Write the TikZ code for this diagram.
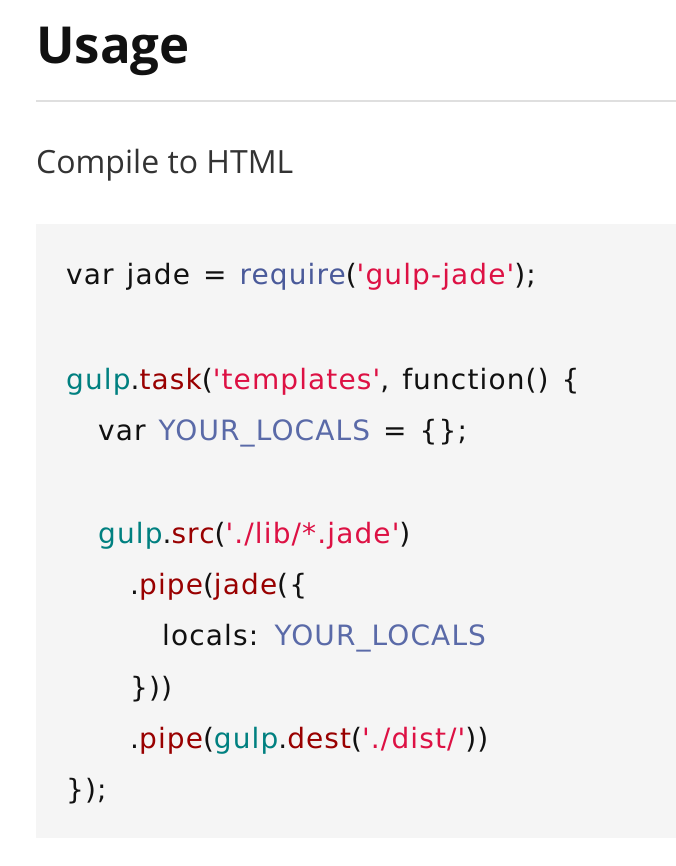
\documentclass[tikz,border=0pt]{standalone}
\usepackage{fontspec}
\setmainfont{Open Sans}
\newfontfamily\codef[LetterSpace=4,WordSpace=1.3]{DejaVu Sans}
\definecolor{kw}{HTML}{4A5A9A}
\definecolor{str}{HTML}{DD1144}
\definecolor{tl}{HTML}{008080}
\definecolor{fn}{HTML}{990000}
\definecolor{loc}{HTML}{5A6AA8}
\definecolor{txt}{HTML}{111111}
\newcommand{\qq}{{\char39}}
\tikzset{codeline/.style={anchor=base west,inner sep=0pt,font=\codef\fontsize{28}{30}\selectfont,text=txt}}
\begin{document}
\begin{tikzpicture}[x=1pt,y=-1pt]
\useasboundingbox (0,0) rectangle (676,866);
\node[anchor=base west,inner sep=0pt,font=\bfseries\fontsize{51}{54}\selectfont,text=txt] (h) at (36,64) {Usage};
\draw[gray!25,line width=1.2pt] (36,101) -- (676,101);
\node[anchor=base west,inner sep=0pt,font=\fontsize{32}{34}\selectfont,text=black!80] (c) at (36,174) {Compile to HTML};
\fill[black!4] (36,224) rectangle (676,838);
\node[codeline] (l1) at (66,284) {var jade = \textcolor{kw}{require}(\textcolor{str}{\qq gulp-jade\qq});};
\node[codeline] (l3) at (66,389) {\textcolor{tl}{gulp}.\textcolor{fn}{task}(\textcolor{str}{\qq templates\qq}, function() \{};
\node[codeline] (l4) at (98,440) {var \textcolor{loc}{YOUR\_LOCALS} = \{\};};
\node[codeline] (l6) at (98,543) {\textcolor{tl}{gulp}.\textcolor{fn}{src}(\textcolor{str}{\qq./lib/*.jade\qq})};
\node[codeline] (l7) at (130,594) {.\textcolor{fn}{pipe}(\textcolor{fn}{jade}(\{};
\node[codeline] (l8) at (162,645) {locals: \textcolor{loc}{YOUR\_LOCALS}};
\node[codeline] (l9) at (130,697) {\}))};
\node[codeline] (l10) at (130,748) {.\textcolor{fn}{pipe}(\textcolor{tl}{gulp}.\textcolor{fn}{dest}(\textcolor{str}{\qq./dist/\qq}))};
\node[codeline] (l11) at (66,799) {\});};
\end{tikzpicture}
\end{document}
